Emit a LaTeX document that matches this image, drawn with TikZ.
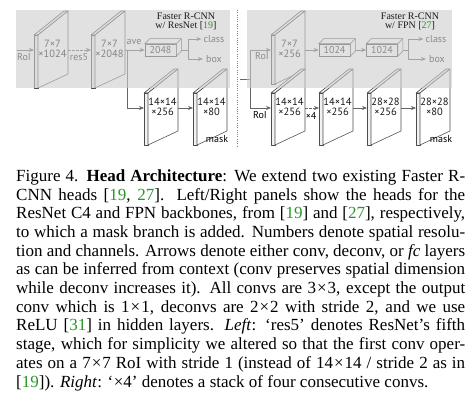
\documentclass[tikz,border=0pt]{standalone}
\usepackage{fontspec}
\setmainfont{Liberation Serif}
\newfontfamily\dfont{PT Sans}
\usetikzlibrary{arrows.meta}
\definecolor{citeg}{RGB}{40,150,40}
\tikzset{
  plate/.style={draw=black!70, line width=0.55pt, line join=round},
  maptext/.style={font=\dfont\fontsize{10.5}{10.5}\selectfont, align=center, inner sep=0pt, text=black!90},
  lbl/.style={font=\dfont\fontsize{10}{10}\selectfont, inner sep=0pt, text=black!85},
  fcbox/.style={draw=black!70, line width=0.55pt, minimum width=31pt, minimum height=12pt, inner sep=0pt, fill=white, font=\dfont\fontsize{10}{10}\selectfont, text=black!85},
  arr/.style={-{Stealth[length=5pt,width=4pt]}, line width=0.6pt, draw=black!60},
  ln/.style={line width=0.6pt, draw=black!60},
  dsh/.style={dash pattern=on 2.5pt off 1.5pt},
  ovl/.style={fill={rgb,255:red,205;green,205;blue,205}, fill opacity=0.6},
  ttl/.style={font=\fontsize{10}{9}\selectfont, align=center, inner sep=0pt, text=black!90}
}
\newcommand\plate[6]{% name, x0, y0, h, line1, line2
  \filldraw[plate,fill=black!5] (#2-4,#3) rectangle (#2,#3+#4);
  \filldraw[plate,fill=black!5] (#2-4,#3) -- (#2+26,#3-24) -- (#2+30,#3-24) -- (#2,#3) -- cycle;
  \filldraw[plate,fill=white] (#2,#3) -- (#2+30,#3-24) -- (#2+30,#3+#4-14) -- (#2,#3+#4) -- cycle;
  \node[maptext] (#1) at (#2+14.5,#3+14) {#5\\#6};
  \coordinate (#1-w) at (#2-4,#3+15);
  \coordinate (#1-e) at (#2+30,#3+15);
}
\newcommand\fcdepth[1]{%
  \filldraw[plate,fill=white] (#1.north west) -- ([shift={(5,-5)}]#1.north west) -- ([shift={(5,-5)}]#1.north east) -- ([shift={(5,-5)}]#1.south east) -- (#1.south east) -- (#1.north east) -- cycle;
  \draw[plate] (#1.north east) -- ([shift={(5,-5)}]#1.north east);
}
\newcommand\tms{\kern1pt×\kern1pt}
\begin{document}
\begin{tikzpicture}[x=1pt,y=-1pt]
\useasboundingbox (0,0) rectangle (474,401);
% ---------------- left panel ----------------
\plate{A}{38}{35}{53}{7×7}{×1024}
\plate{B}{95}{35}{53}{7×7}{×2048}
\plate{C}{148}{93}{52}{14×14}{×256}
\plate{D}{197}{93}{52}{14×14}{×80}
\node[fcbox] (fcL) at (160.5,50) {2048};
\fcdepth{fcL}
\node[lbl] (roiL) at (24,57) {RoI};
\node[lbl] (res5) at (79,57) {res5};
\node[lbl] (ave) at (134,42) {ave};
\node[lbl] (clsL) at (214,39) {class};
\node[lbl] (boxL) at (214,59) {box};
\node[lbl, text=black] (maskL) at (217,139) {mask};
\coordinate (inL) at (17,50);
\coordinate (spL) at (127,50);
\coordinate (brL) at (188,50);
\draw[arr] (inL) -- (A-w);
\draw[arr,dsh] (A-e) -- (B-w);
\draw[arr] (B-e) -- (fcL.west);
\draw[arr] (spL) |- (C-w);
\draw[arr] (C-e) -- (D-w);
\draw[ln] ([xshift=5pt]fcL.east) -- (brL);
\draw[arr] (brL) |- ([xshift=-2pt]clsL.west);
\draw[arr] (brL) |- ([xshift=-3pt]boxL.west);
% ---------------- right panel ----------------
\plate{E}{275}{35}{49}{7×7}{×256}
\plate{F}{275}{93}{52}{14×14}{×256}
\plate{G}{323}{93}{52}{14×14}{×256}
\plate{H}{371}{93}{52}{28×28}{×256}
\plate{I}{420}{93}{52}{28×28}{×80}
\node[fcbox] (fcR1) at (334.5,50) {1024};
\fcdepth{fcR1}
\node[fcbox] (fcR2) at (382,50) {1024};
\fcdepth{fcR2}
\node[lbl] (roiR1) at (262,56) {RoI};
\node[lbl, text=black] (roiR2) at (260,115) {RoI};
\node[lbl, text=black] (x4) at (311,116) {×4};
\node[lbl] (clsR) at (436,39) {class};
\node[lbl] (boxR) at (437,59) {box};
\node[lbl, text=black] (maskR) at (441,139) {mask};
\coordinate (inR) at (240,79);
\coordinate (spR) at (250,79);
\coordinate (brR) at (408,50);
\draw[ln] (inR) -- (spR);
\draw[arr] (spR) |- (E-w);
\draw[arr] (spR) |- (F-w);
\draw[arr] (E-e) -- (fcR1.west);
\draw[arr] ([xshift=5pt]fcR1.east) -- (fcR2.west);
\draw[ln] ([xshift=5pt]fcR2.east) -- (brR);
\draw[arr] (brR) |- ([xshift=-2pt]clsR.west);
\draw[arr] (brR) |- ([xshift=-3pt]boxR.west);
\draw[arr,dsh] (F-e) -- (G-w);
\draw[arr] (G-e) -- (H-w);
\draw[arr] (H-e) -- (I-w);
% ---------------- overlays ----------------
\fill[ovl] (16,10) rectangle (230,88);
\fill[ovl] (247,10) rectangle (452,88);
\node[ttl] (tL) at (186,21) {Faster R-CNN\\w/ ResNet [\textcolor{citeg}{19}]};
\node[ttl] (tR) at (410,21) {Faster R-CNN\\w/ FPN [\textcolor{citeg}{27}]};
\draw[black!50, line width=0.7pt, dash pattern=on 0.8pt off 1.5pt] (237.5,10) -- (237.5,146);
% ---------------- caption ----------------
\node[anchor=base west, inner sep=0pt] (cap) at (16,387) {\fontsize{17}{18.7}\selectfont
\vbox{\hsize=449pt\baselineskip=18.7pt\lineskiplimit=-20pt\lineskip=0pt
\hbox to\hsize{Figure 4. \textbf{Head Architecture}: We extend two existing Faster R-}
\hbox to\hsize{CNN heads [\textcolor{citeg}{19}, \textcolor{citeg}{27}].  Left/Right panels show the heads for the}
\hbox to\hsize{ResNet C4 and FPN backbones, from [\textcolor{citeg}{19}] and [\textcolor{citeg}{27}], respectively,}
\hbox to\hsize{to which a mask branch is added. Numbers denote spatial resolu-}
\hbox to\hsize{tion and channels. Arrows denote either conv, deconv, or \textit{fc} layers}
\hbox to\hsize{as can be inferred from context (conv preserves spatial dimension}
\hbox to\hsize{while deconv increases it).  All convs are 3\tms3, except the output}
\hbox to\hsize{conv which is 1\tms1, deconvs are 2\tms2 with stride 2, and we use}
\hbox to\hsize{ReLU [\textcolor{citeg}{31}] in hidden layers. \textit{Left}: ‘res5’ denotes ResNet’s fifth}
\hbox to\hsize{stage, which for simplicity we altered so that the first conv oper-}
\hbox to\hsize{ates on a 7\tms7 RoI with stride 1 (instead of 14\tms14 / stride 2 as in}
\hbox{[\textcolor{citeg}{19}]). \textit{Right}: ‘\kern0.5pt×4’ denotes a stack of four consecutive convs.}
}};
\end{tikzpicture}
\end{document}
